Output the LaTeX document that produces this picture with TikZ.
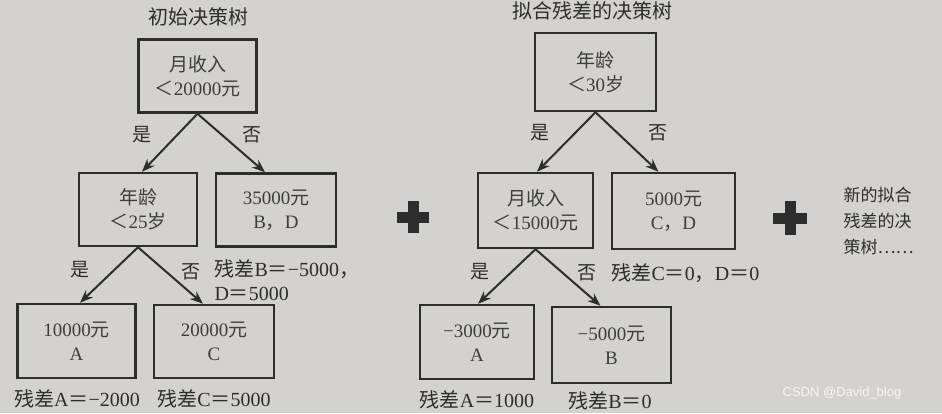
\documentclass[tikz,border=0pt]{standalone}
\usepackage{fontspec}
\setmainfont{Liberation Serif}
\newfontfamily\cjk{Noto Sans CJK SC}
\newfontfamily\wmfont{Liberation Sans}
\usetikzlibrary{arrows.meta}

\definecolor{paper}{RGB}{212,210,206}
\definecolor{ink}{RGB}{45,45,45}
\definecolor{boxtxt}{RGB}{62,62,62}
\newcommand{\zh}[1]{{\cjk #1}}

\begin{document}
\begin{tikzpicture}[x=1pt, y=-1pt,
	box/.style={draw=ink, line width=2.5pt, minimum width=118pt, minimum height=73pt,
		inner sep=0pt, align=center, text=boxtxt, font=\fontsize{19}{24}\selectfont},
	arr/.style={draw=ink, line width=2pt, -{Stealth[length=13pt, width=10pt]}},
	lab/.style={text=ink, font=\cjk\fontsize{19}{22}\selectfont},
	note/.style={text=ink, align=left, font=\fontsize{20}{24}\selectfont},
	plus/.style={draw=ink, line width=11pt}
]
	%% Paper
	\fill [paper] (0,0) rectangle (942,413);
	\useasboundingbox (0,0) rectangle (942,413);

	%% Initial tree
	\node [lab, font=\cjk\fontsize{20}{24}\selectfont] (titleL) at (198,17) {初始决策树};
	\node [box] (rootL) at (197.5,76) {\zh{月收入}\\\zh{＜}20000\zh{元}};
	\node [box] (ageL) at (138,209.5) {\zh{年龄}\\\zh{＜}25\zh{岁}};
	\node [box, minimum width=120pt] (bdL) at (276,210) {35000\zh{元}\\B\zh{，}D};
	\node [box, minimum height=74pt] (aL) at (76.5,341) {10000\zh{元}\\A};
	\node [box, minimum width=120pt] (cL) at (214,341.5) {20000\zh{元}\\C};

	\draw [arr] (rootL.south) -- ([xshift=4pt]ageL.north);
	\draw [arr] (rootL.south) -- ([xshift=-11pt]bdL.north);
	\draw [arr] (ageL.south) -- ([xshift=3.5pt]aL.north);
	\draw [arr] (ageL.south) -- ([xshift=-11pt]cL.north);

	\node [lab] (yesL1) at (142,135) {是};
	\node [lab] (noL1) at (252,135) {否};
	\node [lab] (yesL2) at (80,270) {是};
	\node [lab] (noL2) at (191,272) {否};

	\node [note, anchor=west] (resBD) at (211,280) {\zh{残差}B\zh{＝}−5000\zh{，}\\D\zh{＝}5000};
	\node [note] (resAL) at (77,399) {\zh{残差}A\zh{＝}−2000};
	\node [note] (resCL) at (214,399) {\zh{残差}C\zh{＝}5000};

	%% Plus
	\draw [plus] (397,217) -- (429,217) (413,201) -- (413,233);

	%% Tree fitted to the residuals
	\node [lab, font=\cjk\fontsize{20}{24}\selectfont] (titleR) at (592,11) {拟合残差的决策树};
	\node [box, minimum width=121pt, minimum height=78pt] (rootR) at (595.5,72) {\zh{年龄}\\\zh{＜}30\zh{岁}};
	\node [box, minimum width=115pt, minimum height=75pt] (incR) at (535.5,210.5) {\zh{月收入}\\\zh{＜}15000\zh{元}};
	\node [box, minimum width=123pt, minimum height=76pt] (cdR) at (673.5,211) {5000\zh{元}\\C\zh{，}D};
	\node [box, minimum width=114pt, minimum height=74pt] (aR) at (477,342) {−3000\zh{元}\\A};
	\node [box, minimum width=119pt, minimum height=76pt] (bR) at (611.5,345) {−5000\zh{元}\\B};

	\draw [arr] (rootR.south) -- ([xshift=1.5pt]incR.north);
	\draw [arr] (rootR.south) -- ([xshift=-15pt]cdR.north);
	\draw [arr] (incR.south) -- ([xshift=1pt]aR.north);
	\draw [arr] (incR.south) -- ([xshift=-11pt]bR.north);

	\node [lab] (yesR1) at (540,133) {是};
	\node [lab] (noR1) at (658,133) {否};
	\node [lab] (yesR2) at (480,272) {是};
	\node [lab] (noR2) at (587,273) {否};

	\node [note, anchor=west] (resCD) at (608,273) {\zh{残差}C\zh{＝}0\zh{，}D\zh{＝}0};
	\node [note] (resAR) at (477,400) {\zh{残差}A\zh{＝}1000};
	\node [note] (resBR) at (610,401) {\zh{残差}B\zh{＝}0};

	%% Plus and the next trees
	\draw [plus] (773,218) -- (807,218) (790,201) -- (790,235);
	\node [lab, anchor=west, align=left, font=\cjk\fontsize{17}{26}\selectfont] (more) at (840,221)
		{新的拟合\\残差的决\\策树……};

	%% Watermark
	\node [text=white!80!paper, font=\wmfont\fontsize{13}{15}\selectfont] (mark) at (842,393) {CSDN @David\_blog};
\end{tikzpicture}
\end{document}
